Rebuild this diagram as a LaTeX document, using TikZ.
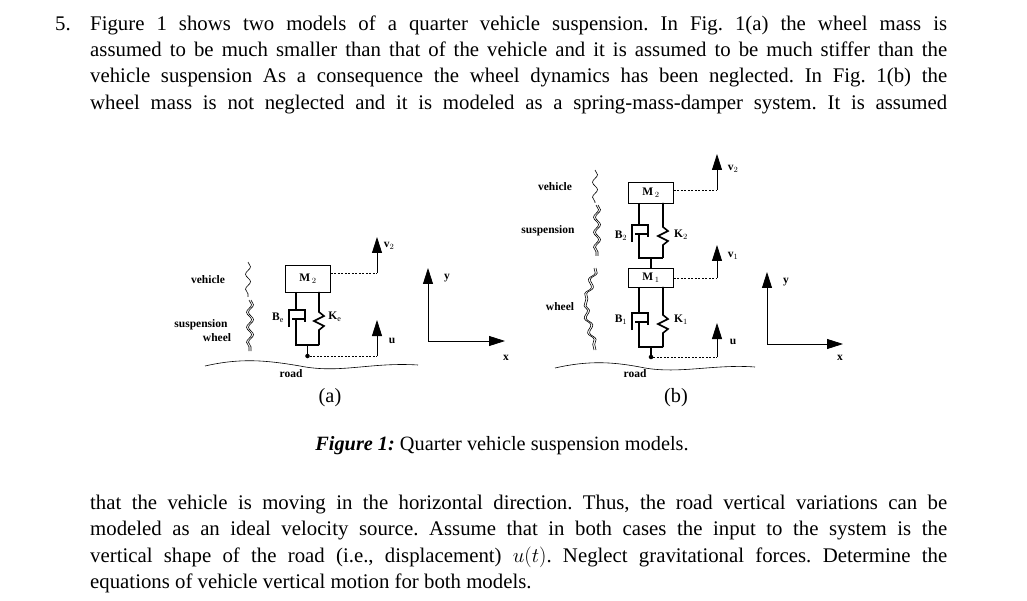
\documentclass[tikz,border=0pt]{standalone}
\usepackage{fontspec}
\setmainfont{Liberation Serif}
\usetikzlibrary{arrows.meta,decorations.pathmorphing}
\frenchspacing
\newcommand\fullline[1]{\makebox[857pt][s]{#1}}
\newcommand\suspunit[6]{% xl xr ytop ybot cuptop cupbot
 \draw[leg] (#1,#3)--(#1,#5);
 \draw[leg] (#1-7,#6)--(#1-7,#5)--(#1+9,#5)--(#1+9,#6-5);
 \draw[leg] (#1-4,#5+9)--(#1+9,#5+9);
 \draw[leg] (#1,#5+9)--(#1,#4)--(#2,#4);
 \draw[leg] (#2,#3)--(#2,#5+2)--(#2+5,#5+6)--(#2-5,#5+11)--(#2+5,#5+16)--(#2,#5+20)--(#2,#4);
}
\begin{document}
\begin{tikzpicture}[x=1pt,y=-1pt,
  body/.style={font=\fontsize{20.8}{26}\selectfont,inner sep=0pt,anchor=base west},
  lab/.style={font=\fontsize{11.5}{12}\selectfont\bfseries,inner sep=0pt},
  mass/.style={draw,line width=0.6pt,minimum width=45pt,font=\fontsize{11.5}{12}\selectfont\bfseries,inner sep=0pt},
  leg/.style={line width=1.6pt},
  dsh/.style={line width=0.6pt,dash pattern=on 2pt off 1.5pt},
  up/.style={line width=0.8pt,-{Triangle[width=10pt,length=16pt]}},
  wav/.style={decorate,decoration={snake,amplitude=2.5pt,segment length=15pt},line width=0.6pt},
  captext/.style={font=\fontsize{20.3}{22}\selectfont,inner sep=0pt}]
\useasboundingbox (0,0) rectangle (1027,601);
% text
\node[body] (n5) at (55,31) {5.};
\node[body] (p1) at (90,31) {\fullline{Figure 1 shows two models of a quarter vehicle suspension. In Fig. 1(a) the wheel mass is}};
\node[body] (p2) at (90,57) {\fullline{assumed to be much smaller than that of the vehicle and it is assumed to be much stiffer than the}};
\node[body] (p3) at (90,83) {\fullline{vehicle suspension As a consequence the wheel dynamics has been neglected. In Fig. 1(b) the}};
\node[body] (p4) at (90,110) {\fullline{wheel mass is not neglected and it is modeled as a spring-mass-damper system. It is assumed}};
\node[body] (q1) at (90,509) {\fullline{that the vehicle is moving in the horizontal direction. Thus, the road vertical variations can be}};
\node[body] (q2) at (90,535) {\fullline{modeled as an ideal velocity source. Assume that in both cases the input to the system is the}};
\node[body] (q3) at (90,562) {\fullline{vertical shape of the road (i.e., displacement) $u(t)$. Neglect gravitational forces. Determine the}};
\node[body] (q4) at (90,588) {equations of vehicle vertical motion for both models.};
\node[captext] (ca) at (330,398) {(a)};
\node[captext] (cb) at (676,398) {(b)};
\node[captext] (fig) at (502,446) {\textbf{\textit{Figure 1:}} Quarter vehicle suspension models.};
% ---------- (a)
\node[mass,minimum height=27pt] (m2a) at (308,278.5) {M$_{\,2}$};
\suspunit{296}{319}{292}{345}{310}{327}
\coordinate (sa) at (307.5,345);
\node[circle,fill,inner sep=1.6pt] (da) at (307.5,356) {};
\draw[leg] (sa)--(da);
\coordinate (va1) at (377,273); \coordinate (va2) at (377,237);
\draw[dsh] (m2a.east|-va1)--(va1); \draw[up] (va1)--(va2);
\coordinate (ua1) at (377,356); \coordinate (ua2) at (377,320);
\draw[dsh] (da)--(ua1); \draw[up] (ua1)--(ua2);
\node[lab] at (389,246) {v$_2$};
\node[lab] at (392,341) {u};
\node[lab] at (278,318) {B$_{\rm e}$};
\node[lab] at (335,317) {K$_{\rm e}$};
\coordinate (oa) at (428,341);
\draw[up] (oa)--(428,268); \draw[up] (oa)--(505,341);
\node[lab] at (447,278) {y};
\node[lab] at (506,358) {x};
\draw[line width=0.6pt] (205,366) .. controls (240,358) and (265,360) .. (300,366) .. controls (340,374) and (370,362) .. (418,365);
\node[lab] at (291,374) {road};
\node[lab] at (208,280) {vehicle};
\node[lab] at (201,325) {suspension};
\node[lab] at (217,338) {wheel};
\draw[wav] (248,262)--(248,297);
\draw[wav] (249,300)--(249,351); \draw[wav] (251,300)--(251,351);
% ---------- (b)
\node[mass,minimum height=21pt] (m2b) at (651,192.5) {M$_{\,2}$};
\suspunit{639}{663}{203}{258}{225}{242}
\node[mass,minimum height=19pt] (m1b) at (651,277.5) {M$_{\,1}$};
\draw[leg] (651,258)--(m1b.north);
\suspunit{639}{663}{287}{347}{313}{330}
\node[circle,fill,inner sep=1.6pt] (db) at (651,357) {};
\draw[leg] (651,347)--(db);
\coordinate (v21) at (717,190); \coordinate (v22) at (717,154);
\draw[dsh] (m2b.east|-v21)--(v21); \draw[up] (v21)--(v22);
\coordinate (v11) at (717,278); \coordinate (v12) at (717,245);
\draw[dsh] (m1b.east|-v11)--(v11); \draw[up] (v11)--(v12);
\coordinate (ub1) at (717,357); \coordinate (ub2) at (717,323);
\draw[dsh] (db)--(ub1); \draw[up] (ub1)--(ub2);
\node[lab] at (733,169) {v$_2$};
\node[lab] at (733,256) {v$_1$};
\node[lab] at (733,342) {u};
\node[lab] at (621,236) {B$_2$};
\node[lab] at (681,235) {K$_2$};
\node[lab] at (621,320) {B$_1$};
\node[lab] at (681,320) {K$_1$};
\coordinate (ob) at (767,344);
\draw[up] (ob)--(767,272); \draw[up] (ob)--(843,344);
\node[lab] at (786,282) {y};
\node[lab] at (840,358) {x};
\draw[line width=0.6pt] (555,368) .. controls (590,360) and (615,362) .. (645,368) .. controls (680,374) and (715,364) .. (755,367);
\node[lab] at (635,374) {road};
\node[lab] at (555,187) {vehicle};
\node[lab] at (548,231) {suspension};
\node[lab] at (560,307) {wheel};
\draw[wav] (595,170)--(595,203);
\draw[wav] (596,205)--(596,256); \draw[wav] (598,205)--(598,256);
\draw[wav] (594,268)--(584,306); \draw[wav] (584,306)--(594,350);
\draw[wav] (596,268)--(586,306); \draw[wav] (586,306)--(596,350);
\end{tikzpicture}
\end{document}
